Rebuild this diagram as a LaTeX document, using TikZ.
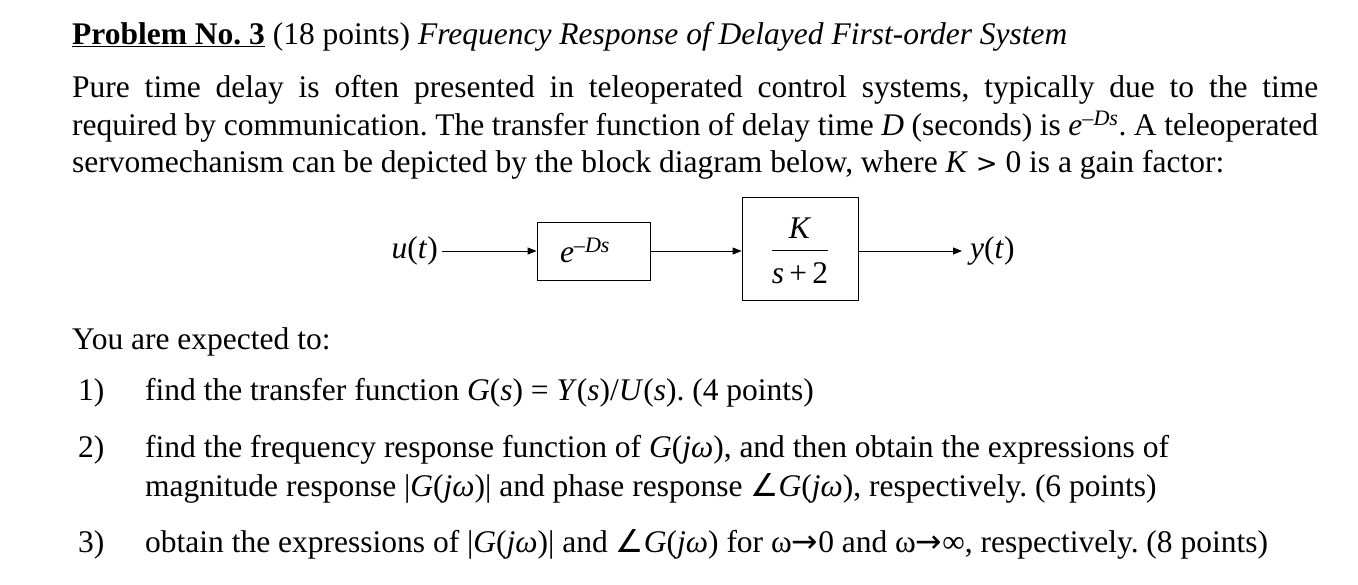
\documentclass[tikz,border=0pt]{standalone}
\usepackage{fontspec}
\setmainfont{Liberation Serif}
\newfontfamily\djf{DejaVu Sans}
\usetikzlibrary{arrows.meta}
\frenchspacing
\begin{document}
\begin{tikzpicture}[x=1pt,y=-1pt,
  txt/.style={anchor=base west,inner sep=0pt,font=\fontsize{31.5}{38}\selectfont},
  blk/.style={draw,line width=0.8pt,inner sep=0pt},
  arr/.style={-{Triangle[length=9pt,width=7pt]},line width=0.8pt}]
\useasboundingbox (0,0) rectangle (1358,584);
\newcommand\jl[1]{\makebox[1246pt][s]{#1}}
\node[txt] (t0) at (72,44) {\underline{\textbf{Problem No. 3}} (18 points) \textit{Frequency Response of Delayed First-order System}};
\node[txt] (p1) at (72,97) {\jl{Pure time delay is often presented in teleoperated control systems, typically due to the time}};
\node[txt] (p2) at (72,135) {\jl{required by communication. The transfer function of delay time \textit{D} (seconds) is \textit{e}\textsuperscript{\textit{–Ds}}. A teleoperated}};
\node[txt] (p3) at (72,172) {servomechanism can be depicted by the block diagram below, where \textit{K} {\djf\fontsize{26}{30}\selectfont >} 0 is a gain factor:};
% block diagram
\node[txt,anchor=east] (u) at (438,251) {\textit{u}(\textit{t})};
\node[blk,minimum width=113pt,minimum height=58pt] (b1) at (593.5,251) {};
\node[txt,anchor=base] (e1) at (585,262) {\textit{e}\textsuperscript{\textit{–Ds}}};
\node[blk,minimum width=116pt,minimum height=103pt] (b2) at (800,248.5) {};
\node[txt,anchor=base] (k) at (800,238) {\textit{K}};
\node[txt,anchor=base] (s2) at (800,283) {\textit{s}\,+\,2};
\draw[line width=0.8pt] (772,250) -- (828,250);
\coordinate (yo) at (962,251);
\node[txt,anchor=west] (y) at (970,251) {\textit{y}(\textit{t})};
\draw[arr] (u.east)+(4,0) -- (b1.west);
\draw[arr] (b1.east) -- (b2.west |- b1.east);
\draw[arr] (b2.east |- b1.east) -- (yo);
% list
\node[txt] (ex) at (72,349) {You are expected to:};
\node[txt] (n1) at (78,400) {1)};
\node[txt] (i1) at (145,400) {find the transfer function \textit{G}(\textit{s}) = \textit{Y}(\textit{s})/\textit{U}(\textit{s}). (4 points)};
\node[txt] (n2) at (78,457) {2)};
\node[txt] (i2) at (145,457) {find the frequency response function of \textit{G}(\textit{jω}), and then obtain the expressions of};
\node[txt] (i2b) at (145,496) {magnitude response |\textit{G}(\textit{jω})| and phase response {\djf∠}\textit{G}(\textit{jω}), respectively. (6 points)};
\node[txt] (n3) at (78,552) {3)};
\node[txt] (i3) at (145,552) {obtain the expressions of |\textit{G}(\textit{jω})| and {\djf∠}\textit{G}(\textit{jω}) for ω{\djf→}0 and ω{\djf→}∞, respectively. (8 points)};
\end{tikzpicture}
\end{document}
